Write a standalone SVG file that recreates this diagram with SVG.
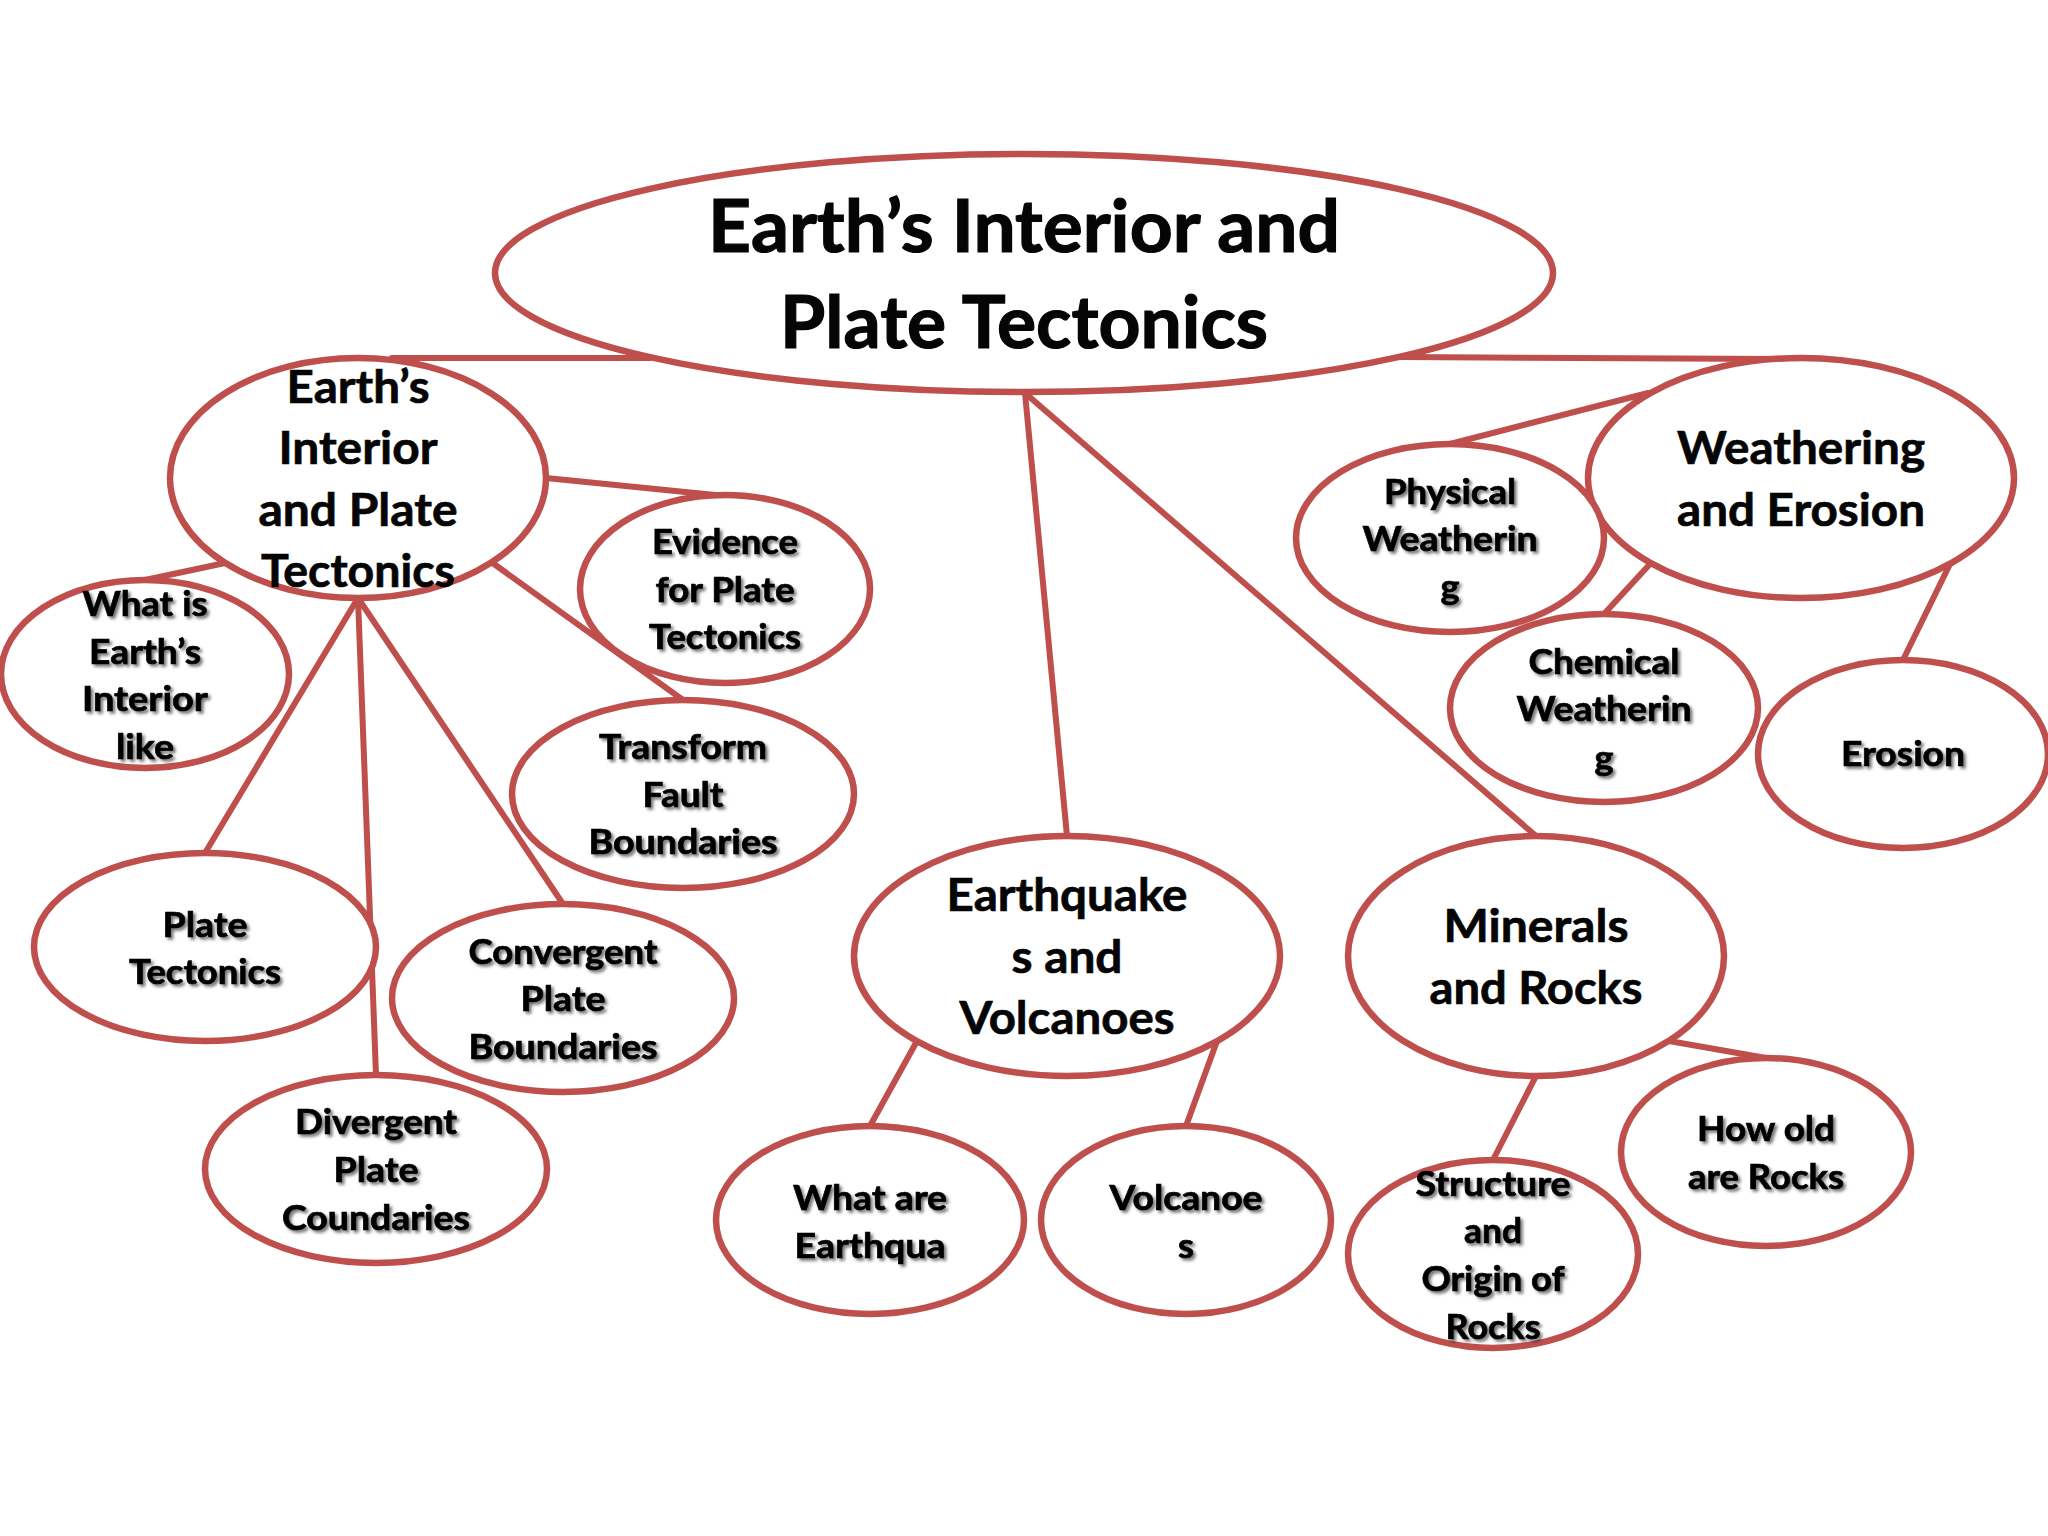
<svg xmlns="http://www.w3.org/2000/svg" width="2048" height="1536" viewBox="0 0 2048 1536">
<defs>
<filter id="sh" x="-20%" y="-30%" width="140%" height="170%"><feDropShadow dx="2.5" dy="2.5" stdDeviation="1.6" flood-color="#000" flood-opacity="0.55"/></filter>
</defs>
<style>
ellipse{fill:#fff;stroke:#BE4F4C;stroke-width:6.5}
line{stroke:#BE4F4C;stroke-width:6;stroke-linecap:round}
text{font-family:"Lato","Open Sans","Liberation Sans",sans-serif;font-weight:700;fill:#050505;stroke:#050505;stroke-width:0.7px;text-anchor:middle;transform:translateY(-1px)}
.r{font-size:72px;stroke-width:1.2px}
.m{font-size:46px}
.s{font-size:35px;filter:url(#sh)}
</style>
<rect width="2048" height="1536" fill="#fff"/>
<g id="connectors">
<line x1="650" y1="358" x2="392" y2="358"/>
<line x1="1025" y1="393" x2="1067" y2="836"/>
<line x1="1025" y1="393" x2="1536" y2="836"/>
<line x1="1397" y1="357" x2="1800" y2="359"/>
<line x1="546" y1="478" x2="725" y2="496"/>
<line x1="494" y1="564" x2="683" y2="700"/>
<line x1="225" y1="563" x2="145" y2="580"/>
<line x1="358" y1="598" x2="205" y2="853"/>
<line x1="358" y1="598" x2="376" y2="1075"/>
<line x1="358" y1="598" x2="563" y2="904"/>
<line x1="917" y1="1041" x2="870" y2="1126"/>
<line x1="1217" y1="1041" x2="1186" y2="1126"/>
<line x1="1536" y1="1076" x2="1493" y2="1160"/>
<line x1="1669" y1="1041" x2="1766" y2="1058"/>
<line x1="1648" y1="393" x2="1450" y2="444"/>
<line x1="1650" y1="564" x2="1604" y2="614"/>
<line x1="1950" y1="564" x2="1903" y2="660"/>
</g>
<g id="root"><ellipse cx="1024" cy="273" rx="529" ry="119"/>
<text class="r" x="1024" y="253" textLength="632" lengthAdjust="spacingAndGlyphs">Earth’s Interior and</text>
<text class="r" x="1024" y="349" textLength="488" lengthAdjust="spacingAndGlyphs">Plate Tectonics</text></g>
<g id="earths-interior"><ellipse cx="358" cy="478" rx="188" ry="120"/>
<text class="m" x="358" y="404" textLength="143" lengthAdjust="spacingAndGlyphs">Earth’s</text>
<text class="m" x="358" y="465" textLength="159" lengthAdjust="spacingAndGlyphs">Interior</text>
<text class="m" x="358" y="527" textLength="199" lengthAdjust="spacingAndGlyphs">and Plate</text>
<text class="m" x="358" y="588" textLength="194" lengthAdjust="spacingAndGlyphs">Tectonics</text></g>
<g id="evidence"><ellipse cx="725" cy="589" rx="145" ry="94"/>
<text class="s" x="725" y="555" textLength="146" lengthAdjust="spacingAndGlyphs">Evidence</text>
<text class="s" x="725" y="603" textLength="139" lengthAdjust="spacingAndGlyphs">for Plate</text>
<text class="s" x="725" y="650" textLength="152" lengthAdjust="spacingAndGlyphs">Tectonics</text></g>
<g id="what-is"><ellipse cx="145" cy="674" rx="144" ry="94"/>
<text class="s" x="145" y="617" textLength="125" lengthAdjust="spacingAndGlyphs">What is</text>
<text class="s" x="145" y="665" textLength="112" lengthAdjust="spacingAndGlyphs">Earth’s</text>
<text class="s" x="145" y="712" textLength="126" lengthAdjust="spacingAndGlyphs">Interior</text>
<text class="s" x="145" y="760" textLength="58" lengthAdjust="spacingAndGlyphs">like</text></g>
<g id="transform"><ellipse cx="683" cy="794" rx="171" ry="94"/>
<text class="s" x="683" y="760" textLength="168" lengthAdjust="spacingAndGlyphs">Transform</text>
<text class="s" x="683" y="808" textLength="81" lengthAdjust="spacingAndGlyphs">Fault</text>
<text class="s" x="683" y="855" textLength="189" lengthAdjust="spacingAndGlyphs">Boundaries</text></g>
<g id="plate-tectonics"><ellipse cx="205" cy="947" rx="171" ry="94"/>
<text class="s" x="205" y="938" textLength="85" lengthAdjust="spacingAndGlyphs">Plate</text>
<text class="s" x="205" y="985" textLength="152" lengthAdjust="spacingAndGlyphs">Tectonics</text></g>
<g id="convergent"><ellipse cx="563" cy="998" rx="171" ry="94"/>
<text class="s" x="563" y="965" textLength="189" lengthAdjust="spacingAndGlyphs">Convergent</text>
<text class="s" x="563" y="1012" textLength="85" lengthAdjust="spacingAndGlyphs">Plate</text>
<text class="s" x="563" y="1060" textLength="189" lengthAdjust="spacingAndGlyphs">Boundaries</text></g>
<g id="divergent"><ellipse cx="376" cy="1169" rx="171" ry="94"/>
<text class="s" x="376" y="1135" textLength="162" lengthAdjust="spacingAndGlyphs">Divergent</text>
<text class="s" x="376" y="1183" textLength="85" lengthAdjust="spacingAndGlyphs">Plate</text>
<text class="s" x="376" y="1231" textLength="188" lengthAdjust="spacingAndGlyphs">Coundaries</text></g>
<g id="earthquakes"><ellipse cx="1067" cy="956" rx="213" ry="120"/>
<text class="m" x="1067" y="912" textLength="241" lengthAdjust="spacingAndGlyphs">Earthquake</text>
<text class="m" x="1067" y="974" textLength="111" lengthAdjust="spacingAndGlyphs">s and</text>
<text class="m" x="1067" y="1035" textLength="215" lengthAdjust="spacingAndGlyphs">Volcanoes</text></g>
<g id="what-are"><ellipse cx="870" cy="1220" rx="154" ry="94"/>
<text class="s" x="870" y="1211" textLength="154" lengthAdjust="spacingAndGlyphs">What are</text>
<text class="s" x="870" y="1259" textLength="151" lengthAdjust="spacingAndGlyphs">Earthqua</text></g>
<g id="volcanoes"><ellipse cx="1186" cy="1220" rx="145" ry="94"/>
<text class="s" x="1186" y="1211" textLength="153" lengthAdjust="spacingAndGlyphs">Volcanoe</text>
<text class="s" x="1186" y="1259" textLength="16" lengthAdjust="spacingAndGlyphs">s</text></g>
<g id="minerals"><ellipse cx="1536" cy="956" rx="188" ry="120"/>
<text class="m" x="1536" y="943" textLength="185" lengthAdjust="spacingAndGlyphs">Minerals</text>
<text class="m" x="1536" y="1005" textLength="213" lengthAdjust="spacingAndGlyphs">and Rocks</text></g>
<g id="structure"><ellipse cx="1493" cy="1254" rx="145" ry="94"/>
<text class="s" x="1493" y="1197" textLength="155" lengthAdjust="spacingAndGlyphs">Structure</text>
<text class="s" x="1493" y="1244" textLength="58" lengthAdjust="spacingAndGlyphs">and</text>
<text class="s" x="1493" y="1292" textLength="143" lengthAdjust="spacingAndGlyphs">Origin of</text>
<text class="s" x="1493" y="1340" textLength="95" lengthAdjust="spacingAndGlyphs">Rocks</text></g>
<g id="how-old"><ellipse cx="1766" cy="1152" rx="145" ry="94"/>
<text class="s" x="1766" y="1142" textLength="138" lengthAdjust="spacingAndGlyphs">How old</text>
<text class="s" x="1766" y="1190" textLength="156" lengthAdjust="spacingAndGlyphs">are Rocks</text></g>
<g id="weathering"><ellipse cx="1801" cy="478" rx="213" ry="120"/>
<text class="m" x="1801" y="465" textLength="248" lengthAdjust="spacingAndGlyphs">Weathering</text>
<text class="m" x="1801" y="527" textLength="248" lengthAdjust="spacingAndGlyphs">and Erosion</text></g>
<g id="physical"><ellipse cx="1450" cy="538" rx="154" ry="94"/>
<text class="s" x="1450" y="505" textLength="132" lengthAdjust="spacingAndGlyphs">Physical</text>
<text class="s" x="1450" y="552" textLength="175" lengthAdjust="spacingAndGlyphs">Weatherin</text>
<text class="s" x="1450" y="600" textLength="19" lengthAdjust="spacingAndGlyphs">g</text></g>
<g id="chemical"><ellipse cx="1604" cy="708" rx="154" ry="94"/>
<text class="s" x="1604" y="675" textLength="151" lengthAdjust="spacingAndGlyphs">Chemical</text>
<text class="s" x="1604" y="722" textLength="175" lengthAdjust="spacingAndGlyphs">Weatherin</text>
<text class="s" x="1604" y="771" textLength="19" lengthAdjust="spacingAndGlyphs">g</text></g>
<g id="erosion"><ellipse cx="1903" cy="754" rx="145" ry="94"/>
<text class="s" x="1903" y="767" textLength="124" lengthAdjust="spacingAndGlyphs">Erosion</text></g>
</svg>
